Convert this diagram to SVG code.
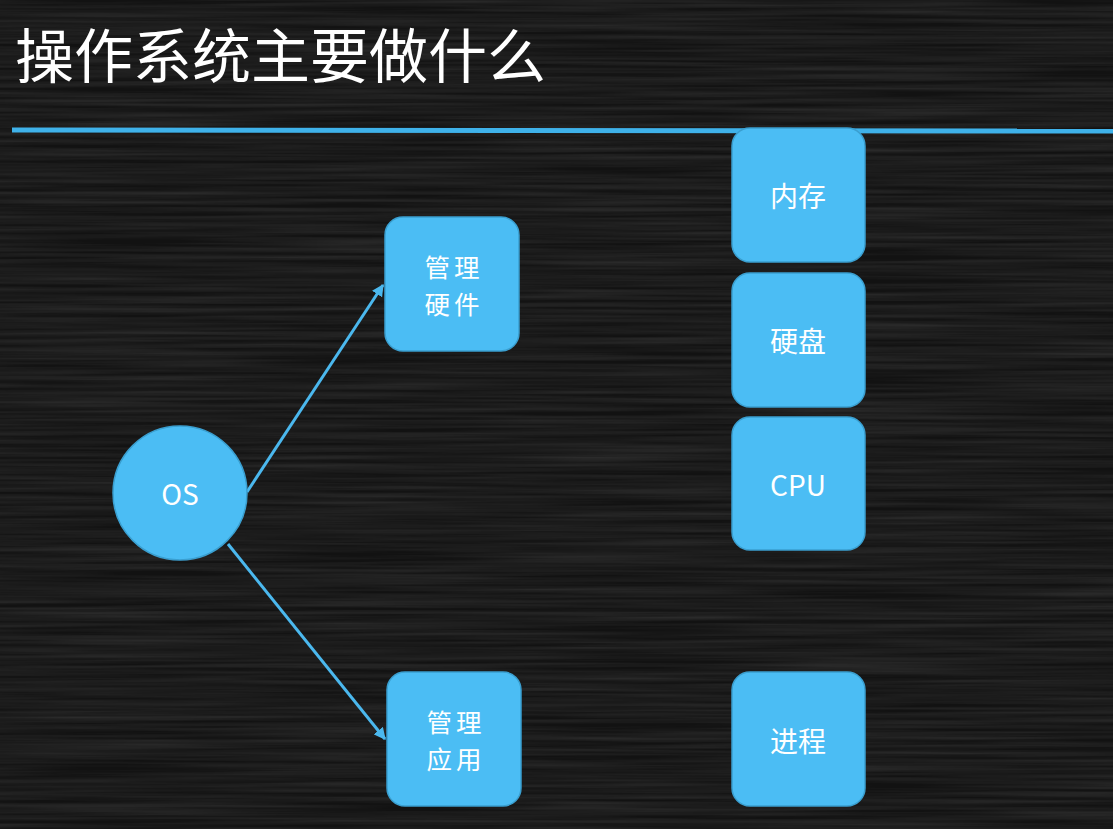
<svg xmlns="http://www.w3.org/2000/svg" width="1113" height="829" viewBox="0 0 1113 829">
<style>
.box{fill:#4bbdf4;stroke:#3a9fd0;stroke-width:1.5}
.lbl{fill:#ffffff;font-family:"Noto Sans CJK SC","Noto Sans",sans-serif;font-size:28px;text-anchor:middle;dominant-baseline:central}
.lbl2{fill:#ffffff;font-family:"Noto Sans CJK SC","Noto Sans",sans-serif;font-size:25.5px;letter-spacing:4px;text-anchor:middle}
.conn{stroke:#4bb8ee;stroke-width:3;fill:none}
</style>
<defs>
<filter id="tex" x="0" y="0" width="100%" height="100%">
<feTurbulence type="fractalNoise" baseFrequency="0.004 0.25" numOctaves="3" seed="4"/>
<feColorMatrix type="matrix" values="0 0 0 0 1 0 0 0 0 1 0 0 0 0 1 0 0 0 0.16 -0.04"/>
</filter>
<marker id="ah" viewBox="0 0 10 10" refX="9" refY="5" markerWidth="4" markerHeight="4" orient="auto">
<path d="M0,0 L10,5 L0,10 z" fill="#4bb8ee"/>
</marker>
</defs>
<rect width="1113" height="829" fill="#121212"/>
<rect width="1113" height="829" filter="url(#tex)"/>
<text x="15" y="78" fill="#ffffff" font-family="Noto Sans CJK SC,sans-serif" font-size="59">操作系统主要做什么</text>
<line x1="12" y1="130" x2="1113" y2="131" stroke="#3fb2ea" stroke-width="5"/>
<g id="connectors">
<line class="conn" x1="247" y1="492" x2="383" y2="285" marker-end="url(#ah)"/>
<line class="conn" x1="228" y1="544" x2="385" y2="739" marker-end="url(#ah)"/>
</g>
<g id="os"><circle cx="180" cy="493" r="67" class="box"/><text class="lbl" x="180" y="493" font-size="27">OS</text></g>
<g id="hw"><rect class="box" x="385" y="217" width="134" height="134" rx="18"/><text class="lbl2"><tspan x="454" y="277">管理</tspan><tspan x="454" y="314">硬件</tspan></text></g>
<g id="app"><rect class="box" x="387" y="672" width="134" height="134" rx="18"/><text class="lbl2"><tspan x="456" y="732">管理</tspan><tspan x="456" y="769">应用</tspan></text></g>
<g id="mem"><rect class="box" x="732" y="128" width="133" height="134" rx="18"/><text class="lbl" x="798" y="195">内存</text></g>
<g id="disk"><rect class="box" x="732" y="273" width="133" height="134" rx="18"/><text class="lbl" x="798" y="340">硬盘</text></g>
<g id="cpu"><rect class="box" x="732" y="417" width="133" height="133" rx="18"/><text class="lbl" x="798" y="484">CPU</text></g>
<g id="proc"><rect class="box" x="732" y="672" width="133" height="134" rx="18"/><text class="lbl" x="798" y="740">进程</text></g>
</svg>
